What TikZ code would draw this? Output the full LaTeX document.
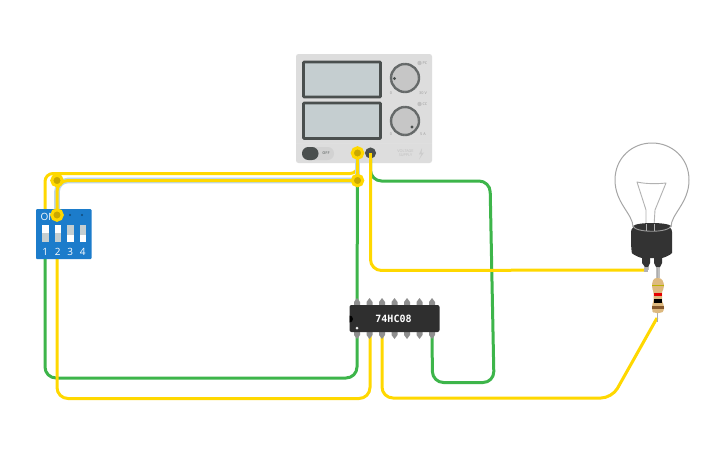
\documentclass[tikz,border=0pt]{standalone}
\usepackage{fontspec}
\setmainfont{Open Sans}
\newfontfamily\chipfont[Scale=1]{DejaVu Sans Mono}
\usetikzlibrary{calc}
\definecolor{wyellow}{HTML}{FFD800}
\definecolor{wgreen}{HTML}{3DB54A}
\definecolor{wblue}{HTML}{BBD6EA}
\definecolor{termcore}{HTML}{C9A800}
\definecolor{psbody}{HTML}{DDDDDD}
\definecolor{psdisp}{HTML}{C5CED0}
\definecolor{psdark}{HTML}{4A4F4E}
\definecolor{dipblue}{HTML}{1C7CCB}
\definecolor{chipbody}{HTML}{2F2F2F}
\definecolor{pingrey}{HTML}{8F8F8F}
\definecolor{sockdark}{HTML}{333333}
\definecolor{restan}{HTML}{DDB97F}
\definecolor{knobfill}{HTML}{C6C6C6}
\tikzset{
 x=1pt,y=-1pt,
 wire/.style={line width=3pt,rounded corners=11pt,line join=round},
 ywire/.style={wire,draw=wyellow},
 gwire/.style={wire,draw=wgreen},
 hwire/.style={wire,draw=wyellow,preaction={draw=wblue,line width=5.6pt}},
 yterm/.style={circle,draw=wyellow,fill=termcore,line width=3pt,minimum size=10.5pt,inner sep=0pt},
 kterm/.style={circle,draw=psdark,fill=psdark,line width=1pt,minimum size=10pt,inner sep=0pt},
 tiny/.style={inner sep=0pt,text=#1,font=\fontsize{3.8}{4}\selectfont},
 tiny/.default=gray!80,
 pinstyle/.style={fill=pingrey,draw=none},
 knob/.style={circle,fill=knobfill,draw=psdark!85,line width=2.4pt,dash pattern=on 1pt off 0.3pt,minimum size=28pt,inner sep=0pt},
 swbox/.style={fill=psdisp,draw=none},
 diplabel/.style={inner sep=0pt,text=white,font=\fontsize{10}{10}\selectfont},
}
\begin{document}
\begin{tikzpicture}
\useasboundingbox (0,0) rectangle (725,453);
\fill[white] (0,0) rectangle (725,453);
% named anchors
\coordinate (chipT1) at (357,305);
\coordinate (chipB1) at (357,334);
\coordinate (chipB2) at (370,334);
\coordinate (chipB3) at (382,334);
\coordinate (chipB7) at (432,334);
\coordinate (dipIn) at (45,212);
\coordinate (dipOut) at (45,256);
\coordinate (lampA) at (645,270);
\coordinate (resB) at (657,318);
% power supply
\fill[psbody,rounded corners=2.5pt] (296,54) rectangle (432,163);
\draw[gray!25,line width=.6pt] (296,143) -- (432,143);
\foreach \ya/\yb in {62/97,103/138.5}{
 \fill[psdisp,draw=psdark,line width=2.8pt,rounded corners=.8pt] (303.5,\ya) rectangle (380.5,\yb);
}
\node[knob] (knobA) at (405,78) {};
\node[knob] (knobB) at (405,121) {};
\fill[psdark] (394.5,78.5) circle (1.6pt);
\fill[psdark] (412,127) circle (1.6pt);
\fill[gray!50] (419.5,63) circle (2.2pt);
\fill[gray!50] (419.5,104) circle (2.2pt);
\node[tiny] at (425,63) {PC};
\node[tiny] at (425,104) {CC};
\node[tiny] at (391,93) {0};
\node[tiny] at (423,93) {30 V};
\node[tiny] at (391,134.5) {0};
\node[tiny] at (423,134.5) {5 A};
\node[tiny=gray!50,align=center] at (405.5,153.5) {VOLTAGE\\SUPPLY};
\fill[gray!40] (422,148) -- (419,154.5) -- (421.5,154) -- (419,159.5) -- (424,152.5) -- (421.5,153) -- cycle;
\fill[gray!35,rounded corners=6.4pt] (302,147) rectangle (334,160);
\fill[psdark,rounded corners=6.4pt] (302,147) rectangle (318.5,160);
\node[inner sep=0pt,text=psdark!70,font=\bfseries\fontsize{3.8}{4}\selectfont] at (326,153.5) {OFF};
% lamp
\draw[gray!70,line width=1pt,fill=white] (633,227)
 .. controls (633,214) and (615,203) .. (615,180)
 .. controls (615,158) and (632,143) .. (652,143)
 .. controls (672,143) and (689,158) .. (689,180)
 .. controls (689,203) and (671,214) .. (671,227);
\draw[gray!60,line width=.9pt,line join=round] (646,226) -- (646,210) -- (637,182) .. controls (646,184) and (657,184) .. (666,183) -- (655,210) -- (654,226);
\fill[gray!50] (644,256) rectangle (649,270);
\fill[gray!50] (656,256) rectangle (660,278);
\fill[sockdark] (642,255) -- (642,263) -- (645,267) -- (648,267) -- (650,263) -- (650,255) -- cycle;
\fill[sockdark] (654,255) -- (654,263) -- (656,267) -- (660,267) -- (662,263) -- (662,255) -- cycle;
\fill[sockdark,rounded corners=6pt] (631,226) -- (631,247) .. controls (632,254) and (640,258) .. (648,258) -- (656,258) .. controls (664,258) and (672,254) .. (672,247) -- (672,226) -- cycle;
\fill[sockdark] (633,226) .. controls (637,222) and (667,222) .. (671,226) .. controls (669,231) and (635,231) .. (633,226);
\draw[gray!80,line width=.9pt] (633,226) .. controls (635,233) and (669,233) .. (671,226);
\draw[gray!60,line width=.9pt] (646,224) -- (646,231) (654,224) -- (654,231);
% wires
\draw[ywire,rounded corners=8pt] (358,153) -- (358,173.5) -- (45,173.5) [rounded corners=11pt] -- (dipIn);
\draw[hwire] (357.5,153) -- (357.5,180.5);
\draw[hwire] (357.5,180.5) -- (57,180.5) -- (57,215);
\draw[gwire] (chipT1) -- (357.5,180.5);
\draw[gwire] (dipOut) -- (45,378) -- (357,378) -- (chipB1);
\draw[ywire] (57,215) -- (57,398.5) -- (370,398.5) -- (chipB2);
\draw[ywire] (chipB3) -- (382,398) -- (612,398) -- (resB);
\draw[gwire] (370.5,153) -- (370.5,181) -- (490,181) -- (494,382.5) -- (432.5,382.5) -- (chipB7);
\draw[ywire] (370.5,153) -- (370.5,270.5) -- (lampA);
\fill[gray!60] (644,268) rectangle (648,272);
% resistor
\draw[gray!65,line width=1.5pt] (657.5,268) -- (657.5,322);
\fill[restan,rounded corners=2.5pt] (654,278) -- (661,278) -- (664,283) -- (664,288) -- (662,291) -- (662,302) -- (664,305) -- (664,311) -- (661,313) -- (654,313) -- (652,311) -- (652,305) -- (653.5,302) -- (653.5,291) -- (652,288) -- (652,283) -- cycle;
\fill[olive!60!yellow] (652,284.5) rectangle (664,286);
\fill[red!90!black] (653.5,292.5) rectangle (662,296);
\fill[black] (653.5,299) rectangle (662,303);
\fill[brown!70!black] (652,305.5) rectangle (664,309);
% chip
\foreach \px in {357,369.5,382,394.5,407,419.5,432}{
 \fill[pinstyle] (\px-3,305) -- (\px-3,302) -- (\px,298) -- (\px+3,302) -- (\px+3,305) -- cycle;
 \fill[pinstyle] (\px-3,332) -- (\px-3,335) -- (\px,339) -- (\px+3,335) -- (\px+3,332) -- cycle;
}
\fill[chipbody,rounded corners=2pt] (349.5,305) rectangle (439.5,332);
\begin{scope}
\clip (349.5,305) rectangle (439.5,332);
\fill[black] (349.5,319) circle (3.5pt);
\end{scope}
\fill[white!85!gray] (357,328) circle (1.5pt);
\node[inner sep=0pt,text=white,font=\chipfont\bfseries\fontsize{10}{10}\selectfont] (chip) at (393.5,319) {74HC08};
% dip switch
\fill[dipblue,rounded corners=1pt] (36,209) rectangle (91.5,259);
\node[diplabel,anchor=west] (dipOn) at (40.5,217) {ON};
\fill[black!40!dipblue] (70,215) circle (1.2pt);
\fill[black!40!dipblue] (82,215) circle (1.2pt);
\foreach \sx/\up/\lab in {42/1/1,54.5/1/2,67/0/3,79.5/0/4}{
 \fill[swbox] (\sx,225) rectangle (\sx+6.5,242);
 \ifnum\up=1
  \fill[white] (\sx,225) rectangle (\sx+6.5,233);
 \else
  \fill[white] (\sx,235) rectangle (\sx+6.5,242);
 \fi
 \node[diplabel] at (\sx+3.3,251.5) {\lab};
}
% terminals
\node[kterm] (supplyNeg) at (370.5,153) {};
\draw[wyellow,line width=3pt] (370.5,153) -- (370.5,166);
\node[yterm] (supplyPos) at (357.5,153) {};
\node[yterm] (busA) at (357.5,180.5) {};
\node[yterm] (busB) at (57,180.5) {};
\node[yterm] (dipPin) at (57,215) {};
\end{tikzpicture}
\end{document}
